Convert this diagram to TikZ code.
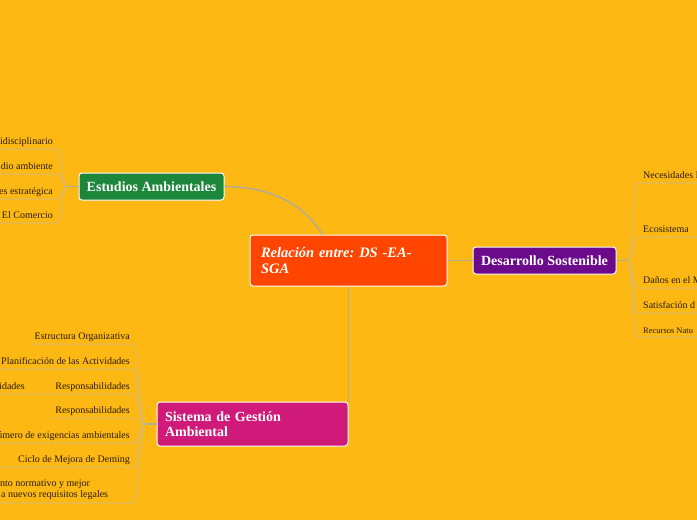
\documentclass[tikz,border=0pt]{standalone}
\usepackage{fontspec}
\setmainfont{Liberation Serif}
\definecolor{bgc}{RGB}{253,184,19}
\definecolor{centc}{RGB}{255,69,0}
\definecolor{dsc}{RGB}{107,10,138}
\definecolor{eac}{RGB}{28,134,58}
\definecolor{sgac}{RGB}{207,26,122}
\definecolor{leafc}{RGB}{40,28,0}
\definecolor{connc}{RGB}{178,172,150}
\definecolor{ulinec}{RGB}{218,186,110}
\begin{document}
\frenchspacing
\begin{tikzpicture}[x=1pt,y=-1pt,
  mainbox/.style={draw=white, line width=1pt, rounded corners=3pt, text=white, inner sep=0pt,
    font=\bfseries\fontsize{14}{15}\selectfont},
  leaf/.style={text=leafc, inner sep=0pt, font=\fontsize{10}{10}\selectfont},
  smallleaf/.style={text=leafc, inner sep=0pt, font=\fontsize{8.5}{9}\selectfont},
  conn/.style={draw=connc, line width=1.5pt},
  uline/.style={draw=ulinec, line width=1pt}]
\useasboundingbox (0,0) rectangle (697,520);
\fill[bgc] (0,0) rectangle (697,520);

% main nodes
\node[mainbox, fill=centc, minimum width=197pt, minimum height=51pt, text width=175pt, align=left,
  font=\bfseries\itshape\fontsize{14.5}{16}\selectfont] (c) at (348.5,260.5) {Relación entre: DS -EA-\\SGA};
\node[mainbox, fill=dsc, minimum width=143pt, minimum height=27pt] (d) at (544.5,260.5) {Desarrollo Sostenible};
\node[mainbox, fill=eac, minimum width=145pt, minimum height=27pt] (e) at (151.5,186.5) {Estudios Ambientales};
\node[mainbox, fill=sgac, minimum width=191pt, minimum height=44pt, text width=175pt, align=left] (s) at (252.5,424) {Sistema de Gestión\\Ambiental};

% main connectors
\draw[conn] (e.east) .. controls (285,187) and (310,215) .. ([xshift=73pt]c.north west);
\draw[conn] (c.east) -- (d.west);
\draw[conn] (c.south) -- (c.south |- s.north);

% branch points
\coordinate (bd) at (628,260.5);
\coordinate (be) at (67,186.5);
\coordinate (bs) at (145,424);
\draw[conn] (d.east) -- (bd);
\draw[conn] (e.west) -- (be);
\draw[conn] (s.west) -- (bs);

% Estudios Ambientales leaves
\foreach \t/\u [count=\i] in {idisciplinario/149, dio ambiente/174, es estratégica/199, El Comercio/223}{
  \node[leaf, anchor=base east] (ea\i) at (53,\u-4.5) {\t};
  \draw[uline] (be) .. controls (62,186.5) and (62,\u) .. (57,\u) -- (0,\u);
}

% Desarrollo Sostenible leaves
\foreach \t/\u [count=\i] in {Necesidades I/183, Ecosistema/237, Daños en el M/288, Satisfación d/313}{
  \node[leaf, anchor=base west] (ds\i) at (643,\u-4.5) {\t};
  \draw[uline] (bd) .. controls (633,260.5) and (632,\u) .. (638,\u) -- (697,\u);
}
\node[smallleaf, anchor=base west] (ds5) at (643,333) {Recursos Natu};
\draw[uline] (bd) .. controls (633,260.5) and (632,337) .. (638,337) -- (697,337);

% Sistema de Gestion Ambiental leaves
\foreach \t/\u/\x [count=\i] in {Estructura Organizativa/344/32, Planificación de las Actividades/369/0,
  Responsabilidades/394/0, Responsabilidades/418/52, úmero de exigencias ambientales/443/0,
  Ciclo de Mejora de Deming/467/0}{
  \node[leaf, anchor=base east] (sg\i) at (130,\u-4.5) {\t};
  \draw[uline] (bs) .. controls (139,424) and (139,\u) .. (133,\u) -- (\x,\u);
}
\node[leaf, anchor=base east] (sg3b) at (25,389.5) {idades};
\node[leaf, anchor=base west] (sg7) at (0,486.5) {nto normativo y mejor};
\node[leaf, anchor=base west] (sg7b) at (1,497) {a nuevos requisitos legales};
\draw[uline] (bs) .. controls (139,424) and (139,503) .. (133,503) -- (0,503);
\end{tikzpicture}
\end{document}
